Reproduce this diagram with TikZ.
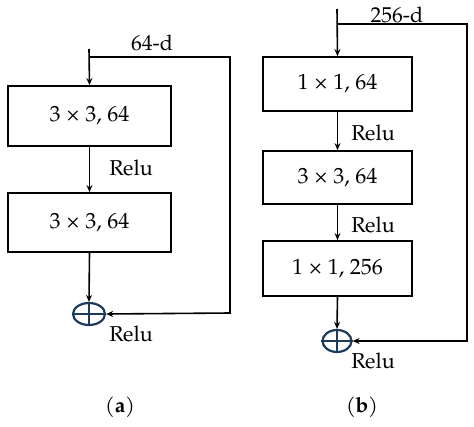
\documentclass[tikz,border=0pt]{standalone}
\usepackage{fontspec}
\setmainfont{TeX Gyre Pagella}
\usetikzlibrary{arrows.meta,shapes.geometric}
\definecolor{circblue}{HTML}{1B3A5C}
\begin{document}
\begin{tikzpicture}[x=1pt,y=-1pt,
  line width=1.6pt,
  blk/.style={draw,line width=1.8pt,minimum width=163pt,inner sep=0pt,font=\fontsize{22}{26}\selectfont},
  lbl/.style={font=\fontsize{21.5}{26}\selectfont,inner sep=0pt},
  sumnode/.style={draw=circblue,line width=2.2pt,ellipse,minimum width=32pt,minimum height=22pt,inner sep=0pt},
  arr/.style={-{Stealth[length=7pt,width=6pt]}},
  subcap/.style={font=\fontsize{21}{26}\selectfont,inner sep=0pt}]
\useasboundingbox (0,0) rectangle (474,426);
% (a)
\coordinate (ain) at (89,49);
\coordinate (asplit) at (89,57);
\coordinate (atr) at (230,57);
\coordinate (abr) at (230,313);
\node[blk,minimum height=60pt] (a1) at (89.5,116) {3 × 3, 64};
\node[blk,minimum height=59pt] (a2) at (89.5,222.5) {3 × 3, 64};
\node[sumnode] (asum) at (89,314) {};
\draw[circblue,line width=2.2pt] (asum.north) -- (asum.south) (asum.west) -- (asum.east);
\node[lbl] at (152,43) {64-d};
\node[lbl] at (131,168) {Relu};
\node[lbl] at (131,334) {Relu};
\draw[arr] (ain) -- (a1.north);
\draw[arr] (a1.south) -- (a2.north);
\draw[arr] (a2.south) -- (asum.north);
\draw[arr] (asplit) -- (atr) -- (abr) -- (asum.east);
\node[subcap] at (120,407) {({\bfseries a})};
% (b)
\coordinate (bin) at (337,9);
\coordinate (bsplit) at (337,24);
\coordinate (btr) at (467,24);
\coordinate (bbr) at (467,341);
\node[blk,minimum width=149pt,minimum height=54pt] (b1) at (337.5,84) {1 × 1, 64};
\node[blk,minimum width=149pt,minimum height=53pt] (b2) at (337.5,177.5) {3 × 3, 64};
\node[blk,minimum width=149pt,minimum height=55pt] (b3) at (337.5,268.5) {1 × 1, 256};
\node[sumnode,minimum width=29pt] (bsum) at (337,341) {};
\draw[circblue,line width=2.2pt] (bsum.north) -- (bsum.south) (bsum.west) -- (bsum.east);
\node[lbl] at (397,15) {256-d};
\node[lbl] at (373,133) {Relu};
\node[lbl] at (373,225) {Relu};
\node[lbl] at (373,361) {Relu};
\draw[arr] (bin) -- (b1.north);
\draw[arr] (b1.south) -- (b2.north);
\draw[arr] (b2.south) -- (b3.north);
\draw[arr] (b3.south) -- (bsum.north);
\draw[arr] (bsplit) -- (btr) -- (bbr) -- (bsum.east);
\node[subcap] at (362,407) {({\bfseries b})};
\end{tikzpicture}
\end{document}
